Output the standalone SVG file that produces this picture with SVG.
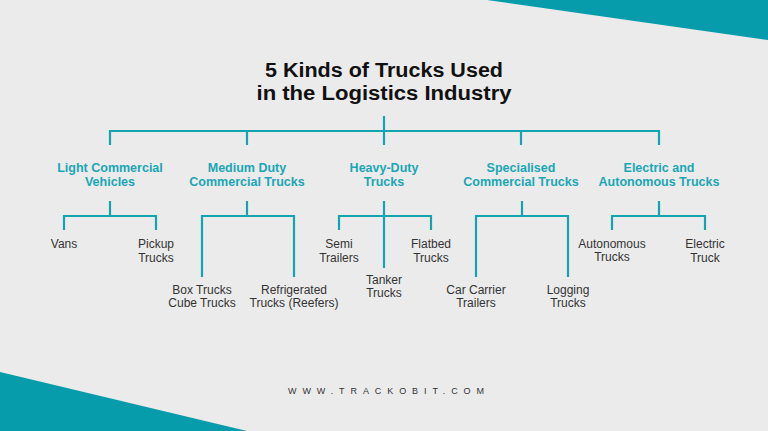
<svg xmlns="http://www.w3.org/2000/svg" width="768" height="431" viewBox="0 0 768 431">
<style>
.bg{fill:#ebebeb}
.tri{fill:#079cab}
.title{font-family:"Liberation Sans",Arial,sans-serif;font-weight:bold;font-size:20px;fill:#111;text-anchor:middle}
.cat{font-family:"Liberation Sans",Arial,sans-serif;font-weight:bold;font-size:12.5px;fill:#1aa6b5;text-anchor:middle}
.leaf{font-family:"Liberation Sans",Arial,sans-serif;font-size:12px;fill:#333;text-anchor:middle}
.foot{font-family:"Liberation Sans",Arial,sans-serif;font-size:9px;fill:#333}
#connectors path{fill:none;stroke:#14a3b1;stroke-width:2.2}
</style>
<rect class="bg" x="0" y="0" width="768" height="431"/>
<polygon class="tri" points="487,0 768,0 768,40"/>
<polygon class="tri" points="0,372 247,431 0,431"/>
<g id="title">
<text class="title" x="384" y="77" textLength="238" lengthAdjust="spacingAndGlyphs">5 Kinds of Trucks Used</text>
<text class="title" x="384" y="100" textLength="255" lengthAdjust="spacingAndGlyphs">in the Logistics Industry</text>
</g>
<g id="connectors">
<path d="M384,116 V131 M110,145 V131 H659 V145 M247,131 V145 M384,131 V145 M521,131 V145"/>
<path d="M110,201 V216 M64,230 V216 H156 V230"/>
<path d="M247,201 V216 M202,277 V216 H294 V277"/>
<path d="M384,201 V268 M339,230 V216 H431 V230"/>
<path d="M522,201 V216 M476,277 V216 H568 V277"/>
<path d="M659,201 V216 M612,230 V216 H705 V230"/>
</g>
<g id="cat-light"><text class="cat" x="110" y="172">Light Commercial</text><text class="cat" x="110" y="186">Vehicles</text></g>
<g id="cat-medium"><text class="cat" x="247" y="172">Medium Duty</text><text class="cat" x="247" y="186">Commercial Trucks</text></g>
<g id="cat-heavy"><text class="cat" x="384" y="172">Heavy-Duty</text><text class="cat" x="384" y="186">Trucks</text></g>
<g id="cat-special"><text class="cat" x="521" y="172">Specialised</text><text class="cat" x="521" y="186">Commercial Trucks</text></g>
<g id="cat-electric"><text class="cat" x="659" y="172">Electric and</text><text class="cat" x="659" y="186">Autonomous Trucks</text></g>
<g id="leaf-vans"><text class="leaf" x="64" y="248">Vans</text></g>
<g id="leaf-pickup"><text class="leaf" x="156" y="248">Pickup</text><text class="leaf" x="156" y="262">Trucks</text></g>
<g id="leaf-box"><text class="leaf" x="202" y="294">Box Trucks</text><text class="leaf" x="202" y="307">Cube Trucks</text></g>
<g id="leaf-reefer"><text class="leaf" x="294" y="294">Refrigerated</text><text class="leaf" x="294" y="307">Trucks (Reefers)</text></g>
<g id="leaf-semi"><text class="leaf" x="339" y="248">Semi</text><text class="leaf" x="339" y="262">Trailers</text></g>
<g id="leaf-tanker"><text class="leaf" x="384" y="284">Tanker</text><text class="leaf" x="384" y="297">Trucks</text></g>
<g id="leaf-flatbed"><text class="leaf" x="431" y="248">Flatbed</text><text class="leaf" x="431" y="262">Trucks</text></g>
<g id="leaf-car"><text class="leaf" x="476" y="294">Car Carrier</text><text class="leaf" x="476" y="307">Trailers</text></g>
<g id="leaf-logging"><text class="leaf" x="568" y="294">Logging</text><text class="leaf" x="568" y="307">Trucks</text></g>
<g id="leaf-auto"><text class="leaf" x="612" y="248">Autonomous</text><text class="leaf" x="612" y="261">Trucks</text></g>
<g id="leaf-electric"><text class="leaf" x="705" y="248">Electric</text><text class="leaf" x="705" y="262">Truck</text></g>
<text class="foot" x="288" y="394" textLength="196" lengthAdjust="spacing">WWW.TRACKOBIT.COM</text>
</svg>
